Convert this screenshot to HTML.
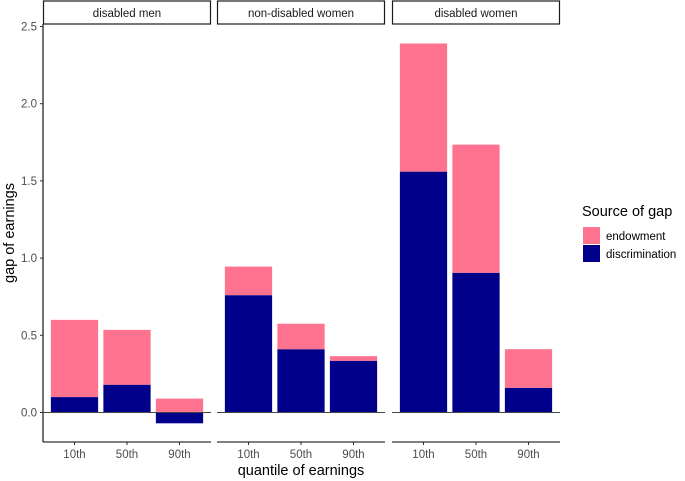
<!DOCTYPE html>
<html><head><meta charset="utf-8"><style>body{margin:0;background:#fff}svg{display:block;font-family:"Liberation Sans",sans-serif}</style></head>
<body>
<svg id="c" width="685" height="481"></svg>
<script>
const panels=["disabled men","non-disabled women","disabled women"];
const quantiles=["10th","50th","90th"];
const discrimination=[[0.10,0.18,-0.07],[0.76,0.41,0.335],[1.56,0.905,0.16]];
const endowment=[[0.50,0.355,0.09],[0.185,0.165,0.03],[0.83,0.83,0.25]];
const yTicks=[0,0.5,1.0,1.5,2.0,2.5];
const yLabels=["0.0","0.5","1.0","1.5","2.0","2.5"];
const NS="http://www.w3.org/2000/svg",svg=document.getElementById('c');
function mk(t,a,p){const e=document.createElementNS(NS,t);for(const k in a)e.setAttribute(k,a[k]);(p||svg).appendChild(e);return e;}
const y=v=>412.5-v*154.4;
const px=[43,217,392],pw=168,yTop=24,yBot=442;
const xs=(p,i)=>px[p]+pw*(i+0.6)/3.2;
const bw=pw*0.9/3.2;
let ax=mk('line',{x1:43,x2:43,y1:yTop,y2:yBot,stroke:'#000','stroke-width':1.1});


yTicks.forEach((v,i)=>{
 let t=mk('line',{x1:40,x2:43,y1:y(v),y2:y(v),stroke:'#333'});
 
 
 let l=mk('text',{x:37,y:y(v)+4,'text-anchor':'end','font-size':11.5,fill:'#4d4d4d'});l.textContent=yLabels[i];
 
 
});
panels.forEach((name,p)=>{
 let s=mk('rect',{x:px[p]+0.5,y:1,width:pw-1,height:23,fill:'#fff',stroke:'#1a1a1a','stroke-width':1.2});
 
 
 let st=mk('text',{x:px[p]+pw/2,y:17,'text-anchor':'middle','font-size':11.5,fill:'#1a1a1a'});st.textContent=name;
 
 
 quantiles.forEach((q,i)=>{
  const d=discrimination[p][i],e=endowment[p][i],cx=xs(p,i);
  let b=mk('rect',{x:cx-bw/2,width:bw,y:Math.min(y(0),y(d)),height:Math.abs(y(d)-y(0)),fill:'#00008b'});
  
  
  const base=d>0?d:0;
  let r=mk('rect',{x:cx-bw/2,width:bw,y:y(base+e),height:y(base)-y(base+e),fill:'#ff7390'});
  
  
  let tk=mk('line',{x1:cx,x2:cx,y1:yBot,y2:yBot+3,stroke:'#333'});
  
  
  let tl=mk('text',{x:cx,y:yBot+16,'text-anchor':'middle','font-size':11.5,fill:'#4d4d4d'});tl.textContent=q;
  
  
 });
 let z=mk('line',{x1:px[p],x2:px[p]+pw,y1:y(0),y2:y(0),stroke:'#444','stroke-width':1});
 
 
 let xa=mk('line',{x1:px[p],x2:px[p]+pw,y1:yBot,y2:yBot,stroke:'#000','stroke-width':1.1});
 
 
});
let xt=mk('text',{x:301,y:475,'text-anchor':'middle','font-size':14.5,fill:'#000'});xt.textContent='quantile of earnings';


let yt=mk('text',{x:0,y:0,'text-anchor':'middle','font-size':14.5,fill:'#000',transform:'translate(14,233) rotate(-90)'});yt.textContent='gap of earnings';


let lt=mk('text',{x:582,y:216,'font-size':14.5,fill:'#000'});lt.textContent='Source of gap';


[['endowment','#ff7390',227],['discrimination','#00008b',245]].forEach(([n,c,yy])=>{
 let k=mk('rect',{x:583,y:yy,width:17,height:17,fill:c});
 
 
 let t=mk('text',{x:606,y:yy+13,'font-size':11.5,fill:'#000'});t.textContent=n;
 
 
});
</script>
</body></html>
